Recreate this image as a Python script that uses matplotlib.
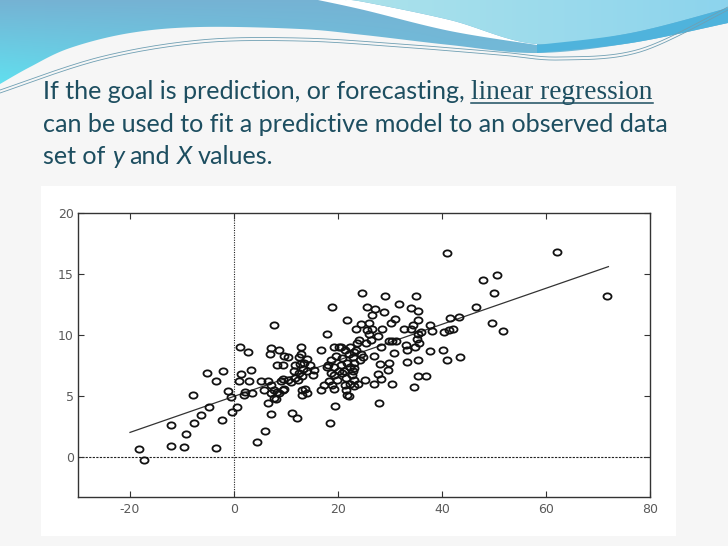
import numpy as np
import matplotlib.pyplot as plt
from matplotlib.path import Path
from matplotlib.patches import Polygon, Rectangle
from matplotlib.transforms import Affine2D

plt.rcParams['axes.unicode_minus'] = False

W, H = 728, 546

# scatter points
x_vals = [
    -18.3, -17.4, -12.2, -12.2, -9.7, -9.3, -7.9, -7.7, -6.4, -4.8, -5.2, -3.5, -3.5, -2.4, -2.1,
    -1.1, -0.6, -0.3, 0.6, 1.1, 2.7, 1.0, 1.3, 2.9, 3.2, 2.2, 3.5, 4.5, 6.0, 6.6, 7.2, 5.1, 6.5,
    5.8, 7.2, 8.0, 8.2, 9.5, 7.7, 6.9, 7.2, 8.7, 8.3, 9.6, 10.4, 9.1, 10.3, 10.9, 11.7, 11.5,
    11.2, 12.2, 12.5, 12.8, 13.1, 14.0, 13.5, 14.1, 14.7, 15.4, 15.1, 16.7, 16.8, 17.3, 17.8,
    17.9, 18.5, 18.9, 19.2, 19.5, 19.2, 19.7, 20.2, 20.6, 21.5, 21.8, 22.1, 21.5, 21.2, 21.8,
    22.4, 22.8, 23.1, 23.4, 23.6, 22.8, 19.2, 19.9, 20.2, 18.6, 18.3,
    1.9, 9.5, 12.4, 13.0, 7.1, 8.7, 9.6, 7.7, 7.7, 11.7, 13.2, 12.5, 9.5, 12.8, 14.0, 12.6,
    18.0, 21.4, 22.4, 20.8, 22.1, 23.1, 19.2, 20.5, 23.0, 18.6, 20.7, 22.6, 18.9, 21.4, 22.4,
    23.0, 13.7, 13.0, 21.8,
    40.9, 62.2, 71.7, 47.8, 50.5, 50.0, 46.5, 49.7, 51.7, 43.3, 41.5, 42.2, 41.3, 40.4, 43.5,
    41.0, 40.1, 37.7, 38.1, 37.7, 35.0, 35.4, 34.1, 35.4, 34.5, 34.1, 35.3, 35.9, 35.1, 35.6,
    34.9, 35.4, 35.4, 36.9, 34.7, 33.3, 33.0, 32.7, 33.2, 31.7, 30.9, 30.1, 30.8, 31.1, 30.4,
    29.8, 30.4, 29.8, 29.7, 29.0, 28.8, 28.5, 28.2, 28.1, 28.2, 27.9, 27.6, 27.6, 26.9, 26.9,
    26.6, 27.1, 25.6, 25.2, 24.7, 24.4, 25.6, 25.9, 26.6, 26.0, 26.3, 25.3, 24.4, 24.9, 23.1,
    23.4, 24.1, 24.2, 23.8,
]
y_vals = [
    0.6, -0.3, 2.6, 0.9, 0.8, 1.9, 5.1, 2.8, 3.4, 4.1, 6.9, 6.2, 0.7, 3.0, 7.0,
    5.4, 4.9, 3.7, 4.1, 9.0, 8.6, 6.2, 6.8, 6.2, 7.1, 5.3, 5.2, 1.2, 2.1, 4.4, 3.5, 6.2, 6.2,
    5.5, 5.2, 4.7, 5.3, 5.5, 10.8, 8.4, 8.9, 8.8, 7.5, 8.3, 8.2, 6.2, 6.3, 6.1, 6.5, 7.0,
    3.6, 3.2, 8.2, 9.0, 5.5, 5.2, 7.7, 8.0, 7.5, 7.1, 6.7, 8.8, 5.5, 5.9, 10.1,
    7.4, 2.8, 12.3, 5.6, 4.2, 9.0, 8.3, 9.0, 9.0, 6.5, 11.2, 5.0, 5.5, 7.0, 7.7,
    7.4, 7.0, 5.8, 10.5, 9.3, 8.2, 6.7, 6.3, 7.0, 7.9, 6.2,
    5.1, 6.4, 6.3, 6.6, 5.9, 5.2, 5.6, 4.8, 5.5, 7.5, 7.2, 6.9, 7.5, 8.4, 7.0, 7.6,
    7.5, 8.8, 9.0, 8.1, 8.4, 8.6, 7.4, 7.5, 7.3, 6.9, 6.9, 6.7, 5.9, 5.9, 6.0,
    6.3, 5.6, 5.1, 5.1,
    16.7, 16.8, 13.2, 14.5, 14.9, 13.4, 12.3, 11.0, 10.3, 11.5, 11.4, 10.5, 10.4, 10.2, 8.2,
    7.9, 8.8, 8.7, 10.3, 10.8, 13.2, 12.0, 12.2, 11.2, 10.8, 10.5, 10.1, 10.2, 9.7, 9.3,
    9.0, 7.9, 6.6, 6.6, 5.7, 8.8, 9.2, 10.5, 7.8, 12.5, 11.3, 11.0, 8.5, 9.5, 9.5,
    9.5, 6.0, 7.7, 7.1, 13.2, 11.9, 10.5, 9.0, 7.6, 6.4, 4.4, 6.8, 9.9, 8.3, 6.0,
    11.6, 12.1, 12.3, 6.3, 13.4, 10.9, 10.4, 11.0, 10.5, 10.1, 9.6, 9.3, 8.4, 8.2, 7.7,
    8.8, 9.6, 7.9, 6.0,
]

# fitted line as drawn in the picture
fit_x = [-20, 72]
fit_y = [2.0, 15.6]

x_ticks = [-20, 0, 20, 40, 60, 80]
y_ticks = [0, 5, 10, 15, 20]

ink = '#1d4e60'


def catmull(pts, n=30):
    pts = np.asarray(pts, float)
    p = np.vstack([pts[0], pts, pts[-1]])
    out = []
    for i in range(1, len(p) - 2):
        p0, p1, p2, p3 = p[i - 1], p[i], p[i + 1], p[i + 2]
        t = np.linspace(0, 1, n)[:, None]
        out.append(0.5 * ((2 * p1) + (-p0 + p2) * t + (2 * p0 - 5 * p1 + 4 * p2 - p3) * t ** 2
                          + (-p0 + 3 * p1 - 3 * p2 + p3) * t ** 3))
    return np.vstack(out)


fig = plt.figure(figsize=(7.28, 5.46), dpi=100)
fig.patch.set_facecolor('#f6f6f6')
bg = fig.add_axes([0, 0, 1, 1])
bg.set_xlim(0, W)
bg.set_ylim(H, 0)
bg.axis('off')

# header swoosh
low = catmull([(0, 84), (30, 67), (70, 48), (130, 33), (200, 27), (300, 29), (364, 35),
               (450, 45), (537, 53), (631, 43), (728, 23)])
blue_poly = Polygon(np.vstack([[(0, 0), (W, 0)], low[::-1]]), closed=True, fc='none', ec='none')
bg.add_patch(blue_poly)
yy, xx = np.mgrid[0:90, 0:W]
t = np.clip(yy / 85.0, 0, 1) * np.clip(1 - xx / 600.0, 0.25, 1)
top_c = np.array([0.46, 0.70, 0.83])
bot_c = np.array([0.38, 0.88, 0.94])
img = top_c + (bot_c - top_c) * t[..., None]
im = bg.imshow(img, extent=[0, W, 90, 0], aspect='auto', zorder=1)
im.set_clip_path(blue_poly)

cyan_low = catmull([(345, 0), (364, 2), (450, 20), (537, 44), (631, 33), (728, 8)])
stripe_low = catmull([(318, 0), (364, 10), (450, 31), (537, 45)])
bg.add_patch(Polygon(np.vstack([cyan_low[:90], stripe_low[::-1]]), closed=True,
                     fc='white', ec='none', zorder=2))
cyan_poly = Polygon(np.vstack([[(335, 0), (W, 0)], cyan_low[::-1]]), closed=True,
                    fc='none', ec='none')
bg.add_patch(cyan_poly)
t2 = np.clip((xx - 330) / 400.0, 0, 1)
c_a = np.array([0.68, 0.89, 0.92])
c_b = np.array([0.55, 0.83, 0.93])
img2 = c_a + (c_b - c_a) * t2[..., None]
im2 = bg.imshow(img2, extent=[0, W, 90, 0], aspect='auto', zorder=3)
im2.set_clip_path(cyan_poly)

band_up = catmull([(537, 45), (631, 33), (728, 8)])
band_low = catmull([(537, 53), (631, 43), (728, 23)])
bg.add_patch(Polygon(np.vstack([band_up, band_low[::-1]]), closed=True,
                     fc='#4fb3dc', ec='none', zorder=4))

for off in (0, 3):
    ln = catmull([(0, 90 + off), (100, 57 + off), (200, 40 + off), (300, 38 + off),
                  (400, 44 + off), (500, 52 + off), (560, 57 + off), (640, 49 + off),
                  (728, 7 + off)])
    bg.plot(ln[:, 0], ln[:, 1], color='#6f9fb3', lw=0.6, zorder=5)

# white picture box
bg.add_patch(Rectangle((41, 186), 635, 350, fc='white', ec='none', zorder=1))

# slide text
rend = fig.canvas.get_renderer()
sans = dict(family='Lato', fontsize=18.1)
serif = dict(family='Liberation Serif', fontsize=19.6)


def space_w(kw):
    a = fig.text(0, 0, 'a a', **kw)
    b = fig.text(0, 0, 'aa', **kw)
    w = a.get_window_extent(rend).width - b.get_window_extent(rend).width
    a.remove()
    b.remove()
    return w


def runs(x, y, parts):
    boxes = []
    for txt, kw, gap in parts:
        tx = fig.text(x / W, 1 - y / H, txt, color=ink, va='baseline', ha='left', **kw)
        bb = tx.get_window_extent(rend)
        boxes.append((x, x + bb.width))
        x += bb.width + (space_w(kw) if gap else 0)
    return boxes


b1 = runs(43, 99, [('If the goal is prediction, or forecasting,', sans, True),
                   ('linear regression', serif, False)])
x0, x1 = b1[1]
bg.plot([x0, x1], [103, 103], color=ink, lw=1.1, zorder=6)
runs(43, 132, [('can be used to fit a predictive model to an observed data', sans, False)])
ital = dict(sans, style='italic')
runs(43, 164, [('set of', sans, True), ('y', ital, True), ('and', sans, True),
               ('X', ital, True), ('values.', sans, False)])

# the scatter plot
ax = fig.add_axes([78 / W, 1 - 497 / H, 572 / W, 284 / H])
ax.set_facecolor('white')
oval = Path.unit_circle().transformed(Affine2D().scale(1.0, 0.78))
ax.axhline(0, color='#222222', lw=0.8, ls=(0, (2, 1.2)), zorder=1)
ax.axvline(0, color='#222222', lw=0.8, ls=(0, (1, 1.2)), zorder=1)
ax.plot(fit_x, fit_y, color='#333333', lw=0.9, zorder=2)
ax.plot(x_vals, y_vals, ls='none', marker=oval, ms=5.8, mfc='none', mec='#111111',
        mew=1.3, zorder=3)
ax.set_xlim(-30, 80)
ax.set_ylim(-3.3, 20)
ax.set_xticks(x_ticks)
ax.set_yticks(y_ticks)
ax.tick_params(direction='in', length=4, width=0.8, top=True, right=True, color='#333333',
               labelsize=9, labelcolor='#5a5a5a')
ax.tick_params(axis='x', pad=4)
ax.tick_params(axis='y', pad=3)
for s in ax.spines.values():
    s.set_color('#333333')
    s.set_linewidth(1.0)

fig.savefig('out.png', dpi=100)
